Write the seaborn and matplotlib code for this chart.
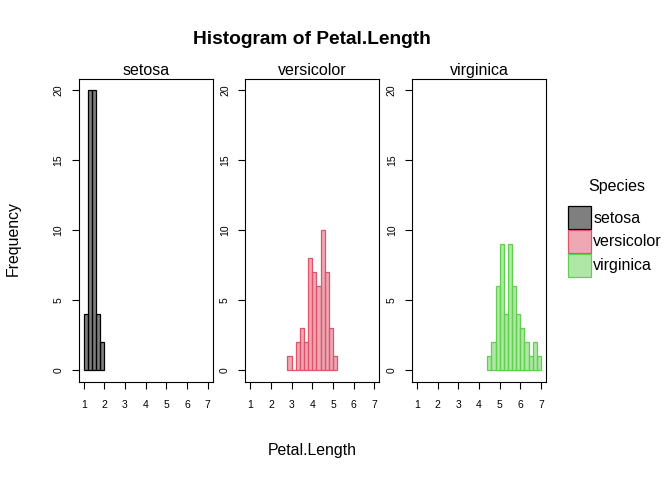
import numpy as np
import pandas as pd
import matplotlib
matplotlib.use('Agg')
import matplotlib.pyplot as plt
import seaborn as sns
from matplotlib.patches import Patch

sns.set_style('white')
plt.rcParams['font.family'] = ['Liberation Sans', 'DejaVu Sans']
plt.rcParams['text.color'] = 'black'
plt.rcParams['axes.titlecolor'] = 'black'

# histogram counts, bin width 0.2
species = ['setosa', 'versicolor', 'virginica']
setosa_start = 1.0
setosa_counts = [4, 20, 20, 4, 2]
versicolor_start = 2.8
versicolor_counts = [1, 0, 2, 3, 2, 8, 7, 6, 10, 7, 3, 1]
virginica_start = 4.4
virginica_counts = [1, 2, 6, 9, 4, 9, 6, 4, 3, 2, 1, 2, 1]
binwidth = 0.2

x_ticks = [1, 2, 3, 4, 5, 6, 7]
y_ticks = [0, 5, 10, 15, 20]

edge_colors = ['#000000', '#DF536B', '#61D04F']

groups = [(setosa_start, setosa_counts),
          (versicolor_start, versicolor_counts),
          (virginica_start, virginica_counts)]

fig = plt.figure(figsize=(6.72, 4.8), dpi=100)
W, H = 672, 480
lefts = [78.7, 245.3, 412.0]
top, bottom, pw = 78.7, 381.7, 134.0

for i, (name, (start, counts)) in enumerate(zip(species, groups)):
    n = len(counts)
    edges = [round(start + binwidth * k, 2) for k in range(n + 1)]
    df = pd.DataFrame({'mid': [e + binwidth / 2 for e in edges[:-1]],
                       'count': counts})
    ax = fig.add_axes([lefts[i] / W, (H - bottom) / H, pw / W, (bottom - top) / H])
    sns.histplot(data=df, x='mid', weights='count', bins=edges, ax=ax,
                 color=edge_colors[i], edgecolor=edge_colors[i], linewidth=0.9)
    r, g, b, _ = matplotlib.colors.to_rgba(edge_colors[i])
    for p in ax.patches:
        p.set_alpha(None)
        p.set_edgecolor(edge_colors[i])
        p.set_facecolor((r, g, b, 0.5))
    ax.set_xlim(0.76, 7.24)
    ax.set_ylim(-0.8, 20.8)
    ax.set_xticks(x_ticks)
    ax.set_yticks(y_ticks)
    ax.set_xlabel('')
    ax.set_ylabel('')
    ax.tick_params(axis='both', direction='out', length=5, width=0.8,
                   labelsize=7.5, colors='black', bottom=True, left=True)
    ax.tick_params(axis='x', pad=8)
    ax.tick_params(axis='y', pad=6)
    for lab in ax.get_yticklabels():
        lab.set_rotation(90)
        lab.set_va('center')
    for s in ax.spines.values():
        s.set_color('black')
        s.set_linewidth(0.8)
    ax.set_title(name, fontsize=11.5, pad=3)

fig.text(312 / W, 1 - 40 / H, 'Histogram of Petal.Length', ha='center',
         va='center', fontsize=13.8, fontweight='bold')
fig.text(312 / W, 1 - 450 / H, 'Petal.Length', ha='center', va='center',
         fontsize=11.4)
fig.text(13 / W, 1 - 238 / H, 'Frequency', ha='center', va='center',
         rotation=90, fontsize=11.4)

# legend
fig.text(617 / W, 1 - 187 / H, 'Species', ha='center', va='center',
         fontsize=11.5)
handles = []
for c in edge_colors:
    r, g, b, _ = matplotlib.colors.to_rgba(c)
    handles.append(Patch(facecolor=(r, g, b, 0.5), edgecolor=c, linewidth=0.9))
fig.legend(handles, species, loc='upper left',
           bbox_to_anchor=(568 / W, 1 - 206 / H), frameon=False,
           fontsize=11.5, handlelength=1.44, handleheight=1.83,
           handletextpad=0.15, labelspacing=0.06, borderpad=0,
           borderaxespad=0)

fig.savefig('out.png', dpi=100)
